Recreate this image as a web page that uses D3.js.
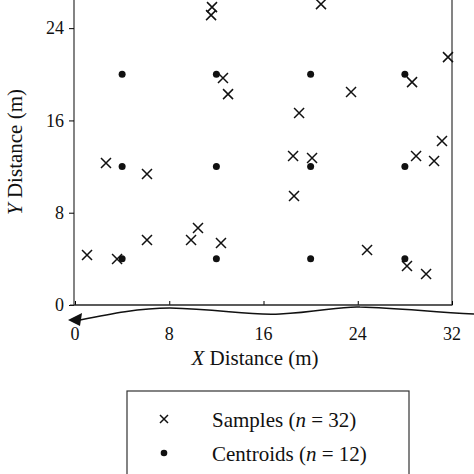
<!DOCTYPE html><html><head><script src="https://cdn.jsdelivr.net/npm/d3@7"></script>
<style>body{margin:0;background:#fff}</style></head><body><svg id="c" width="474" height="474"></svg>
<script>
const sampleX=[11.63,11.55,20.88,31.66,12.56,12.99,28.61,23.43,19.02,31.15,2.63,18.51,20.12,28.95,30.48,6.11,18.59,10.44,9.85,6.11,12.39,1.02,3.57,24.79,28.18,29.8];
const sampleY=[25.82,25.13,26.08,21.49,19.67,18.28,19.32,18.46,16.64,14.21,12.31,12.91,12.74,12.91,12.48,11.35,9.45,6.67,5.63,5.63,5.37,4.33,3.99,4.77,3.38,2.69];
const centroidX=[4,12,20,28,4,12,20,28,4,12,20,28];
const centroidY=[20,20,20,20,12,12,12,12,4,4,4,4];
const ticks=[0,8,16,24,32];
const svg=d3.select("#c"),F="Liberation Serif, Times New Roman, serif";
const x=d3.scaleLinear().domain([0,32]).range([75,452]);
const y=d3.scaleLinear().domain([0,28]).range([305,-18]);
svg.append("rect").attr("x",74).attr("y",-18).attr("width",378).attr("height",323).attr("fill","none").attr("stroke","#333").attr("stroke-width",1.2);
const ya=svg.append("g").attr("transform","translate(74,0)").call(d3.axisLeft(y).tickValues(ticks.slice(0,4)).tickSize(5).tickFormat(d3.format("d")));
ya.select(".domain").remove();
ya.selectAll("text").attr("font-family",F).attr("font-size",18).attr("fill","#111").attr("dx","-2");
const xa=svg.append("g").attr("transform","translate(0,305)").call(d3.axisTop(x).tickValues(ticks).tickSize(4).tickFormat(""));
xa.select(".domain").remove();
svg.append("line").attr("x1",70).attr("x2",452).attr("y1",305).attr("y2",305).attr("stroke","#333");
ticks.forEach(t=>svg.append("text").attr("x",x(t)).attr("y",340).attr("text-anchor","middle").attr("font-family",F).attr("font-size",18).attr("fill","#111").text(t));
svg.append("path").attr("d","M80,320 C110,314 140,308 170,308 C220,309 250,316 280,314 C320,312 340,306 360,307 C400,308 430,312 474,314").attr("fill","none").attr("stroke","#111").attr("stroke-width",1.5);
svg.append("path").attr("d","M68,320 L82,313 L80,326 Z").attr("fill","#111");
const xt=svg.append("text").attr("x",255).attr("y",365).attr("text-anchor","middle").attr("font-family",F).attr("font-size",21).attr("fill","#111");
xt.append("tspan").attr("font-style","italic").text("X");xt.append("tspan").text(" Distance (m)");
const yt=svg.append("text").attr("transform","translate(22,152) rotate(-90)").attr("text-anchor","middle").attr("font-family",F).attr("font-size",21).attr("fill","#111");
yt.append("tspan").attr("font-style","italic").text("Y");yt.append("tspan").text(" Distance (m)");
const cross=(g,cx,cy,s)=>g.append("path").attr("d",`M${cx-s},${cy-s}L${cx+s},${cy+s}M${cx-s},${cy+s}L${cx+s},${cy-s}`).attr("stroke","#111").attr("stroke-width",1.5);
const pg=svg.append("g");
sampleX.forEach((v,i)=>cross(pg,x(v),y(sampleY[i]),5));
centroidX.forEach((v,i)=>pg.append("circle").attr("cx",x(v)).attr("cy",y(centroidY[i])).attr("r",3.5).attr("fill","#111"));
svg.append("rect").attr("x",127).attr("y",391).attr("width",282).attr("height",100).attr("fill","none").attr("stroke","#333").attr("stroke-width",1.2);
cross(svg,164,419,4);
svg.append("circle").attr("cx",164).attr("cy",453).attr("r",3.3).attr("fill","#111");
[["Samples (","32)",427],["Centroids (","12)",461]].forEach(([a,b,yy])=>{const t=svg.append("text").attr("x",212).attr("y",yy).attr("font-family",F).attr("font-size",21).attr("fill","#111");
t.append("tspan").text(a);t.append("tspan").attr("font-style","italic").text("n");t.append("tspan").text(" = "+b);});
</script></body></html>
